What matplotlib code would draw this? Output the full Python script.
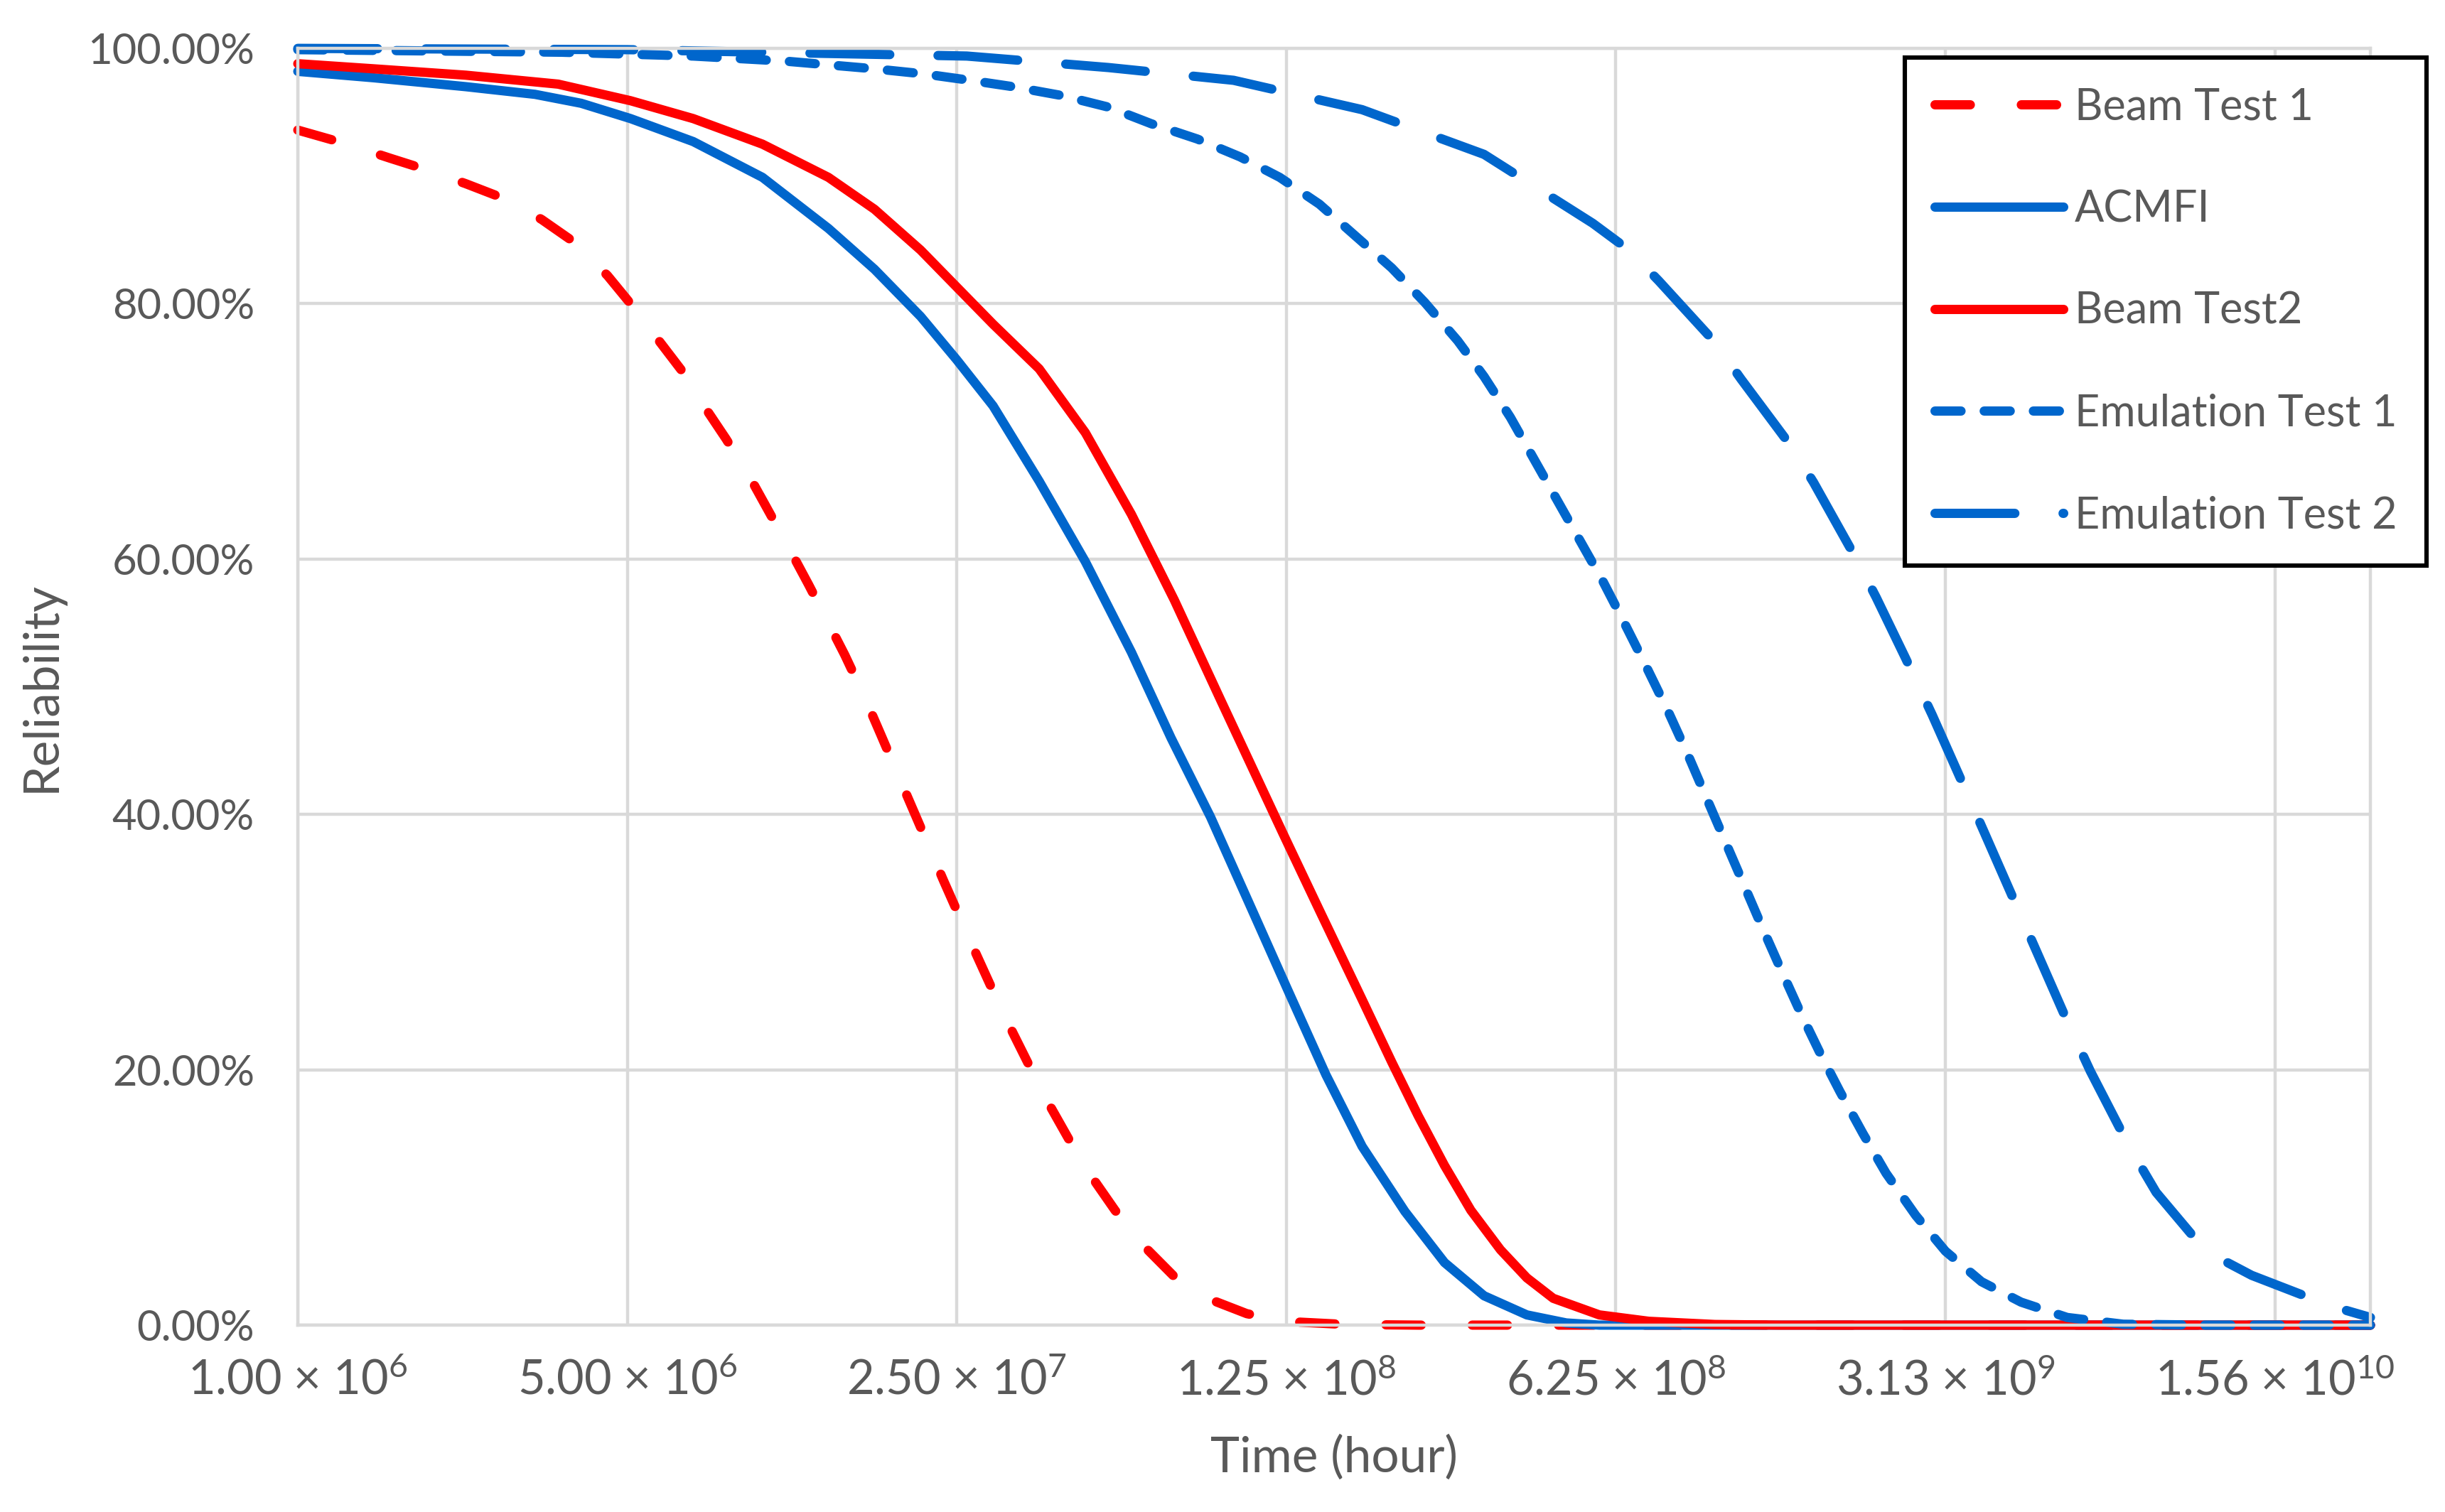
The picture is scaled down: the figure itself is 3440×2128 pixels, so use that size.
import matplotlib
matplotlib.use('Agg')
from matplotlib import pyplot as plt

plt.rcParams['font.family'] = ['Lato', 'DejaVu Sans']
plt.rcParams['mathtext.fontset'] = 'custom'
plt.rcParams['mathtext.rm'] = 'Lato'
plt.rcParams['mathtext.default'] = 'rm'

TEXT = '#595959'
GRID = '#D9D9D9'
RED = '#FF0000'
BLUE = '#0066CC'

# time in hours, reliability in percent
beam1_time = [1.0e6, 1.273e6, 1.569e6, 1.873e6, 2.272e6, 2.757e6, 3.290e6, 3.865e6, 4.540e6, 5.081e6,
              5.780e6, 6.574e6, 7.240e6, 8.103e6, 9.070e6, 9.989e6, 1.100e7, 1.212e7, 1.335e7, 1.446e7,
              1.593e7, 1.727e7, 1.871e7, 2.028e7, 2.198e7, 2.344e7, 2.582e7, 2.753e7, 3.032e7, 3.287e7,
              3.620e7, 3.923e7, 4.391e7, 4.836e7, 5.413e7, 6.156e7, 7.231e7, 8.494e7, 1.030e8, 1.230e8,
              1.670e8, 2.380e8, 2.492e10]
beam1_rel = [93.6, 92.5, 91.4, 90.5, 89.4, 88.2, 86.6, 84.8, 82.2, 80.0,
             77.3, 74.6, 72.1, 69.4, 66.5, 63.7, 60.9, 58.0, 55.0, 52.5,
             49.2, 46.2, 43.2, 40.2, 37.2, 34.8, 31.3, 29.0, 25.6, 22.9,
             19.8, 17.3, 14.1, 11.6, 9.0, 6.4, 3.8, 2.1, 0.9, 0.3,
             0.05, 0.0, 0.0]

acmfi_time = [1.0e6, 1.448e6, 2.272e6, 3.186e6, 3.991e6, 5.081e6, 6.899e6, 9.673e6, 1.335e7, 1.672e7,
              2.095e7, 2.5e7, 2.984e7, 3.738e7, 4.683e7, 5.866e7, 7.116e7, 8.632e7, 1.064e8, 1.25e8,
              1.517e8, 1.810e8, 2.231e8, 2.707e8, 3.283e8, 4.047e8, 4.909e8, 5.767e8, 2.492e10]
acmfi_rel = [98.2, 97.7, 97.0, 96.4, 95.7, 94.5, 92.7, 89.9, 85.9, 82.7,
             79.0, 75.6, 72.0, 66.1, 59.8, 52.7, 46.0, 39.8, 32.3, 26.5,
             19.6, 14.0, 8.9, 4.9, 2.3, 0.8, 0.17, 0.0, 0.0]

beam2_time = [1.0e6, 1.448e6, 2.272e6, 3.566e6, 5.081e6, 6.899e6, 9.673e6, 1.335e7, 1.672e7, 2.095e7,
              2.5e7, 2.984e7, 3.738e7, 4.683e7, 5.866e7, 7.231e7, 9.059e7, 1.230e8, 1.469e8, 1.810e8,
              2.092e8, 2.380e8, 2.707e8, 3.078e8, 3.558e8, 4.047e8, 4.603e8, 5.767e8, 7.341e8, 1.013e9,
              1.398e9, 2.492e10]
beam2_rel = [98.8, 98.4, 97.9, 97.2, 95.9, 94.5, 92.5, 89.9, 87.4, 84.2,
             81.3, 78.4, 74.9, 69.9, 63.5, 56.8, 49.0, 38.5, 32.5, 25.5,
             20.6, 16.4, 12.5, 9.0, 5.9, 3.7, 2.1, 0.8, 0.3, 0.05,
             0.0, 0.0]

emu1_time = [1.0e6, 3.624e6, 6.899e6, 1.083e7, 1.672e7, 2.129e7, 2.666e7, 3.287e7, 4.184e7, 5.241e7,
             6.461e7, 8.094e7, 9.978e7, 1.210e8, 1.469e8, 1.753e8, 2.092e8, 2.458e8, 2.887e8, 3.283e8,
             3.734e8, 4.180e8, 4.678e8, 5.236e8, 5.860e8, 6.454e8, 7.224e8, 8.085e8, 8.905e8, 9.651e8,
             1.063e9, 1.171e9, 1.269e9, 1.398e9, 1.539e9, 1.695e9, 1.867e9, 2.090e9, 2.339e9, 2.703e9,
             3.125e9, 3.729e9, 4.523e9, 5.667e9, 7.449e9, 1.132e10, 2.492e10]
emu1_rel = [99.9, 99.7, 99.4, 99.0, 98.4, 98.0, 97.5, 97.0, 96.3, 95.4,
            94.1, 92.9, 91.5, 89.9, 87.8, 85.3, 82.8, 80.1, 77.1, 74.3,
            71.1, 67.9, 64.7, 61.5, 58.3, 55.3, 51.7, 48.0, 44.6, 41.6,
            38.0, 34.4, 31.4, 27.9, 24.5, 21.3, 18.3, 15.0, 11.9, 8.6,
            5.8, 3.4, 1.8, 0.6, 0.07, 0.0, 0.0]

emu2_time = [1.0e6, 5.0e6, 2.624e7, 5.241e7, 9.662e7, 1.810e8, 3.283e8, 5.584e8, 6.665e8, 7.704e8,
             1.013e9, 1.152e9, 1.467e9, 1.642e9, 2.024e9, 2.229e9, 2.576e9, 2.930e9, 3.441e9, 3.789e9,
             4.380e9, 4.902e9, 5.667e9, 6.343e9, 7.693e9, 8.750e9, 1.114e10, 1.395e10, 2.054e10, 2.492e10]
emu2_rel = [100.0, 99.9, 99.4, 98.5, 97.5, 95.2, 91.7, 86.3, 84.2, 81.8,
            77.0, 74.1, 68.9, 66.0, 60.0, 57.0, 52.2, 47.8, 42.0, 38.5,
            33.2, 29.1, 23.8, 19.9, 13.9, 10.4, 5.8, 3.9, 1.5, 0.6]

xticks = [1.0e6, 5.0e6, 2.5e7, 1.25e8, 6.25e8, 3.125e9, 1.5625e10]
xtick_labels = ['1.00 × 10$^{6}$', '5.00 × 10$^{6}$', '2.50 × 10$^{7}$', '1.25 × 10$^{8}$',
                '6.25 × 10$^{8}$', '3.13 × 10$^{9}$', '1.56 × 10$^{10}$']
yticks = [0, 20, 40, 60, 80, 100]
ytick_labels = ['0.00%', '20.00%', '40.00%', '60.00%', '80.00%', '100.00%']

fig = plt.figure(figsize=(17.2, 10.64), dpi=200)
ax = fig.add_axes([0.1218, 0.1236, 0.8477, 0.8444])

LW = 4.7
ax.plot(beam1_time, beam1_rel, color=RED, lw=LW, ls=(0, (3.8, 5.5)),
        dash_capstyle='round', dash_joinstyle='round', clip_on=False, label='Beam Test 1')
ax.plot(acmfi_time, acmfi_rel, color=BLUE, lw=LW, solid_capstyle='round',
        solid_joinstyle='round', clip_on=False, label='ACMFI')
ax.plot(beam2_time, beam2_rel, color=RED, lw=LW, solid_capstyle='round',
        solid_joinstyle='round', clip_on=False, label='Beam Test2')
ax.plot(emu1_time, emu1_rel, color=BLUE, lw=LW, ls=(0, (2.8, 2.5)),
        dash_capstyle='round', dash_joinstyle='round', clip_on=False, label='Emulation Test 1')
ax.plot(emu2_time, emu2_rel, color=BLUE, lw=LW, ls=(0, (8.6, 5.2)),
        dash_capstyle='round', dash_joinstyle='round', clip_on=False, label='Emulation Test 2')

ax.set_xscale('log')
ax.set_xlim(1.0e6, 2.492e10)
ax.set_ylim(0, 100)
ax.set_xticks(xticks)
ax.set_xticklabels(xtick_labels)
ax.minorticks_off()
ax.set_yticks(yticks)
ax.set_yticklabels(ytick_labels)
ax.tick_params(length=0, labelsize=21.5, colors=TEXT)
ax.tick_params(axis='x', labelsize=24, pad=17)
ax.tick_params(axis='y', pad=22)

ax.grid(True, color=GRID, lw=1.6)
ax.set_axisbelow(True)
for s in ax.spines.values():
    s.set_color(GRID)
    s.set_linewidth(1.6)

ax.set_xlabel('Time (hour)', fontsize=25, color=TEXT, labelpad=16)
ax.set_ylabel('Reliability', fontsize=25, color=TEXT, labelpad=12)

leg = ax.legend(loc='upper right', bbox_to_anchor=(0.9924, 0.962),
                bbox_transform=fig.transFigure, fontsize=22, frameon=True,
                fancybox=False, handlelength=2.97, handletextpad=0.25,
                labelspacing=1.42, borderpad=0.68, borderaxespad=0)
leg.get_frame().set_edgecolor('black')
leg.get_frame().set_linewidth(2.2)
leg.get_frame().set_alpha(1)
leg.set_zorder(10)
for t in leg.get_texts():
    t.set_color(TEXT)

fig.savefig('out.png', dpi=200)
